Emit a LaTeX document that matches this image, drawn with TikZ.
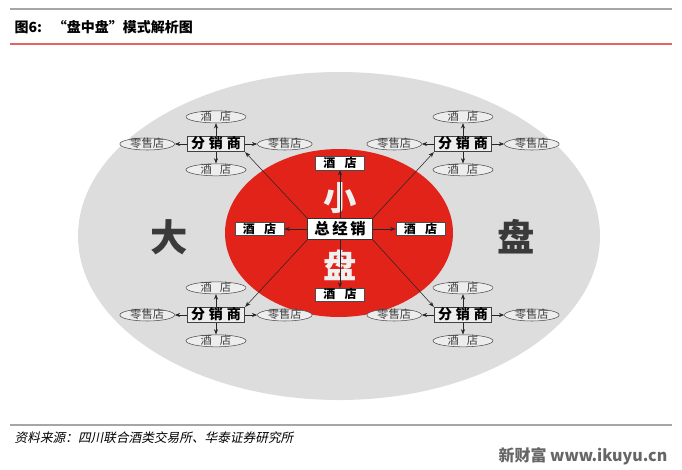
\documentclass[tikz,border=0pt]{standalone}
\usepackage{fontspec}
\setmainfont{Noto Sans CJK SC}
\newfontfamily\srcfont[FakeSlant=0.2]{Noto Sans CJK SC}
\usepackage{tikz}
\usetikzlibrary{positioning,arrows.meta,shapes.geometric}
\usepackage{xcolor}

\definecolor{bggrey}{HTML}{DDDDDD}
\definecolor{panred}{HTML}{E2231A}
\definecolor{rulered}{HTML}{E06666}
\definecolor{bigtext}{HTML}{3A3A3A}

\begin{document}
\begin{tikzpicture}[
  x=0.75pt, y=-0.75pt,
  zjbox/.style={draw=black!80, fill=white, minimum width=49pt, minimum height=16pt,
    inner sep=0pt, font=\fontsize{11.5}{12}\selectfont\bfseries},
  jdbox/.style={draw=black!70, fill=white, minimum width=37pt, minimum height=10pt,
    inner sep=0pt, text height=6.5pt, text depth=0.5pt, font=\fontsize{9}{10}\selectfont\bfseries},
  fxbox/.style={draw=black!75, line width=0.8pt, fill=white!93!black, minimum width=43pt,
    minimum height=11.5pt, inner sep=0pt, text height=7.5pt, text depth=0.5pt,
    font=\fontsize{10.5}{10.5}\selectfont\bfseries},
  shop/.style={ellipse, draw=black!70, fill=white!93!black, minimum width=45pt,
    minimum height=9pt, inner sep=0pt, text height=5.5pt, text depth=0pt,
    text=black!75, font=\fontsize{8.5}{8.5}\selectfont},
  bigchar/.style={font=\fontsize{28}{28}\selectfont\bfseries, text=bigtext},
  arrow/.style={-{Stealth[length=4pt, width=3pt]}, black!85, thin}
]
  \useasboundingbox (0,0) rectangle (682,469);

  % header and footer rules
  \draw[gray!70, line width=0.8pt] (10,9) -- (672,9);
  \draw[rulered, line width=0.8pt] (10,44) -- (672,44);
  \draw[gray!70, line width=0.8pt] (10,425) -- (672,425);
  \node[anchor=west, font=\fontsize{10.5}{11}\selectfont\bfseries] (title) at (10,27)
    {图6:\hspace{8pt}“盘中盘”模式解析图};
  \node[anchor=west, font=\fontsize{9.5}{10}\selectfont] (src) at (10,438)
    {\srcfont 资料来源：四川联合酒类交易所、华泰证券研究所};
  \node[anchor=east, text=black!60, font=\fontsize{12}{12}\selectfont\bfseries] (wm) at (672,456)
    {新财富 www.ikuyu.cn};

  % big and small market
  \fill[bggrey] (339,236) ellipse [x radius=261, y radius=164];
  \fill[panred] (339,233) ellipse [x radius=114, y radius=84];
  \node[bigchar] (da)  at (169,237) {大};
  \node[bigchar] (pan) at (516,237) {盘};
  \node[bigchar, font=\fontsize{25}{25}\selectfont\bfseries, text=white!94!black] (xiao) at (340,198) {小};
  \node[bigchar, font=\fontsize{25}{25}\selectfont\bfseries, text=white!94!black] (pan2) at (340,265) {盘};

  % general distributor
  \node[zjbox] (zjx) at (340,229) {总\hspace{2pt}经\hspace{2pt}销};
  \node[jdbox, above=36pt of zjx] (jdN) {酒\hspace{7pt}店};
  \node[jdbox, below=36pt of zjx] (jdS) {酒\hspace{7pt}店};
  \node[jdbox, left=17pt of zjx]  (jdW) {酒\hspace{7pt}店};
  \node[jdbox, right=17pt of zjx] (jdE) {酒\hspace{7pt}店};
  \draw[arrow] (zjx) -- (jdN);
  \draw[arrow] (zjx) -- (jdS);
  \draw[arrow] (zjx) -- (jdW);
  \draw[arrow] (zjx) -- (jdE);

  % distributors
  \foreach \n/\p in {tl/{(216,144)}, tr/{(463,144)}, bl/{(216,315)}, br/{(463,315)}} {
    \node[fxbox] (fx\n) at \p {分\hspace{3pt}销\hspace{3pt}商};
    \node[shop, above=9.5pt of fx\n] (up\n) {酒\hspace{6pt}店};
    \node[shop, below=8.5pt of fx\n]  (dn\n) {酒\hspace{6pt}店};
    \node[shop, left=9pt of fx\n, minimum width=41pt]  (ls\n) {零售店};
    \node[shop, right=9pt of fx\n, minimum width=41pt] (rs\n) {零售店};
    \draw[arrow] (fx\n) -- (up\n);
    \draw[arrow] (fx\n) -- (dn\n);
    \draw[arrow] (fx\n) -- (ls\n);
    \draw[arrow] (fx\n) -- (rs\n);
  }

  \draw[arrow] (zjx.north west) -- (fxtl.south east);
  \draw[arrow] (zjx.north east) -- (fxtr.south west);
  \draw[arrow] (zjx.south west) -- (fxbl.north east);
  \draw[arrow] (zjx.south east) -- (fxbr.north west);
\end{tikzpicture}
\end{document}
